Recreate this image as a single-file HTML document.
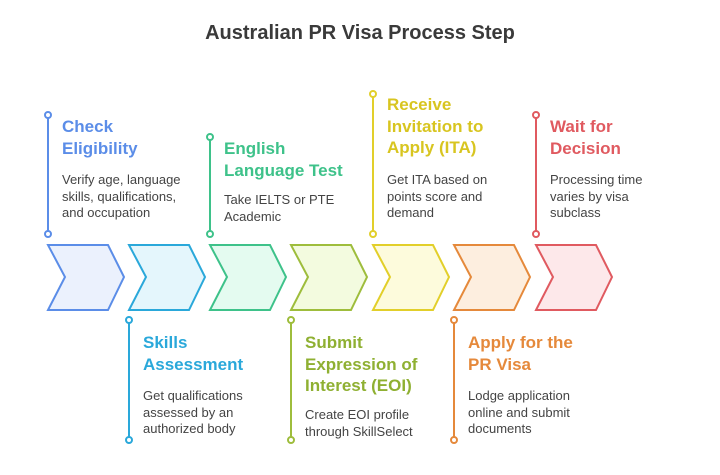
<!DOCTYPE html>
<html><head><style>
body{margin:0;width:720px;height:475px;background:#fff;font-family:"Liberation Sans",Arial,sans-serif;position:relative;overflow:hidden}
.h{position:absolute;top:22px;left:0;width:720px;text-align:center;font-size:20px;font-weight:bold;color:#3a3a3a}
.t{position:absolute;font-size:17px;font-weight:bold;line-height:21.5px}
.b{position:absolute;font-size:13px;line-height:16.5px;color:#444}
svg{position:absolute;left:0;top:0}
</style></head><body>
<div class="h">Australian PR Visa Process Step</div>
<svg width="720" height="475">
<g stroke-width="2">
<polygon points="48,245 108,245 124,277 108,310 48,310 65,277" fill="#ebf1fd" stroke="#5b8de8"/>
<polygon points="129,245 189,245 205,277 189,310 129,310 146,277" fill="#e4f6fc" stroke="#2aa8da"/>
<polygon points="210,245 270,245 286,277 270,310 210,310 227,277" fill="#e4fbf0" stroke="#3ec28a"/>
<polygon points="291,245 351,245 367,277 351,310 291,310 308,277" fill="#f3fbdf" stroke="#9ebd3c"/>
<polygon points="373,245 433,245 449,277 433,310 373,310 390,277" fill="#fdfbdc" stroke="#e2cf2a"/>
<polygon points="454,245 514,245 530,277 514,310 454,310 471,277" fill="#fdeedf" stroke="#e5893b"/>
<polygon points="536,245 596,245 612,277 596,310 536,310 553,277" fill="#fde8ea" stroke="#e05a60"/>
</g>
<g fill="#fff" stroke-width="2">
<g stroke="#5b8de8"><line x1="48" y1="115" x2="48" y2="234"/><circle cx="48" cy="115" r="3"/><circle cx="48" cy="234" r="3"/></g>
<g stroke="#3ec28a"><line x1="210" y1="137" x2="210" y2="234"/><circle cx="210" cy="137" r="3"/><circle cx="210" cy="234" r="3"/></g>
<g stroke="#e2cf2a"><line x1="373" y1="94" x2="373" y2="234"/><circle cx="373" cy="94" r="3"/><circle cx="373" cy="234" r="3"/></g>
<g stroke="#e05a60"><line x1="536" y1="115" x2="536" y2="234"/><circle cx="536" cy="115" r="3"/><circle cx="536" cy="234" r="3"/></g>
<g stroke="#2aa8da"><line x1="129" y1="320" x2="129" y2="440"/><circle cx="129" cy="320" r="3"/><circle cx="129" cy="440" r="3"/></g>
<g stroke="#9ebd3c"><line x1="291" y1="320" x2="291" y2="440"/><circle cx="291" cy="320" r="3"/><circle cx="291" cy="440" r="3"/></g>
<g stroke="#e5893b"><line x1="454" y1="320" x2="454" y2="440"/><circle cx="454" cy="320" r="3"/><circle cx="454" cy="440" r="3"/></g>
</g>
</svg>
<div class="t" style="left:62px;top:116px;color:#5b8de8">Check<br>Eligibility</div>
<div class="b" style="left:62px;top:172px">Verify age, language<br>skills, qualifications,<br>and occupation</div>
<div class="t" style="left:224px;top:138px;color:#3ec28a">English<br>Language Test</div>
<div class="b" style="left:224px;top:192px">Take IELTS or PTE<br>Academic</div>
<div class="t" style="left:387px;top:94px;color:#d8c520">Receive<br>Invitation to<br>Apply (ITA)</div>
<div class="b" style="left:387px;top:172px">Get ITA based on<br>points score and<br>demand</div>
<div class="t" style="left:550px;top:116px;color:#e05a60">Wait for<br>Decision</div>
<div class="b" style="left:550px;top:172px">Processing time<br>varies by visa<br>subclass</div>
<div class="t" style="left:143px;top:332px;color:#2aa8da">Skills<br>Assessment</div>
<div class="b" style="left:143px;top:388px">Get qualifications<br>assessed by an<br>authorized body</div>
<div class="t" style="left:305px;top:332px;color:#8fb032">Submit<br>Expression of<br>Interest (EOI)</div>
<div class="b" style="left:305px;top:407px">Create EOI profile<br>through SkillSelect</div>
<div class="t" style="left:468px;top:332px;color:#e5893b">Apply for the<br>PR Visa</div>
<div class="b" style="left:468px;top:388px">Lodge application<br>online and submit<br>documents</div>
</body></html>
